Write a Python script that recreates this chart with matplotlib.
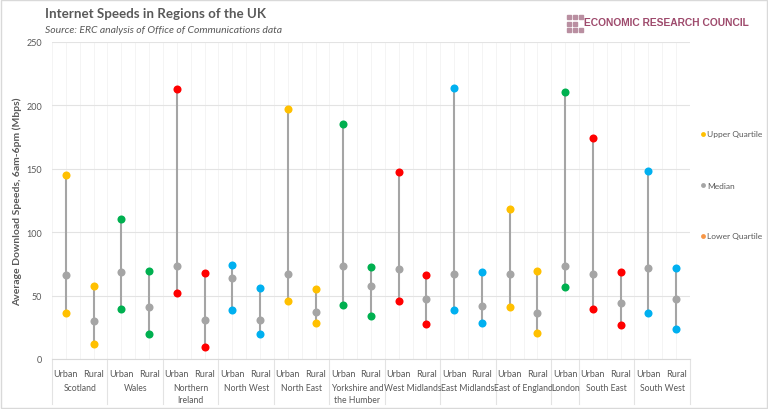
import matplotlib.pyplot as plt
import matplotlib.transforms as mtransforms
from matplotlib.patches import Rectangle

plt.rcParams['font.family'] = ['Lato', 'DejaVu Sans']

regions = ['Scotland', 'Wales', 'Northern\nIreland', 'North West', 'North East',
           'Yorkshire and\nthe Humber', 'West Midlands', 'East Midlands',
           'East of England', 'London', 'South East', 'South West']
region_types = [['Urban', 'Rural']] * 9 + [['Urban']] + [['Urban', 'Rural']] * 2
region_colors = ['#FFC000', '#00B050', '#FF0000', '#00B0F0', '#FFC000', '#00B050',
                 '#FF0000', '#00B0F0', '#FFC000', '#00B050', '#FF0000', '#00B0F0']

upper = [144.6, 57.3, 110.4, 69.7, 212.7, 67.5, 73.8, 56.0, 197.0, 55.2, 185.0, 72.3,
         147.1, 66.5, 213.3, 68.8, 118.5, 69.4, 210.7, 174.0, 68.6, 147.7, 71.8]
median = [66.0, 30.0, 68.4, 41.0, 73.6, 30.7, 64.1, 30.7, 67.3, 36.8, 73.6, 57.8,
          71.0, 47.0, 67.3, 41.5, 67.3, 36.3, 73.6, 67.3, 44.2, 71.5, 47.3]
lower = [36.5, 11.6, 39.2, 19.5, 51.8, 9.5, 38.4, 19.5, 45.5, 28.1, 42.8, 33.9,
         46.0, 27.6, 38.6, 28.1, 40.7, 20.2, 57.0, 39.4, 26.8, 36.5, 23.7]

text_grey = '#595959'
line_grey = '#A5A5A5'

# flatten category structure
cat_labels, cat_colors, group_bounds = [], [], [0]
for reg, types, col in zip(regions, region_types, region_colors):
    cat_labels += types
    cat_colors += [col] * len(types)
    group_bounds.append(group_bounds[-1] + len(types))
n = len(cat_labels)
xs = list(range(n))

fig = plt.figure(figsize=(7.68, 4.10), dpi=100)
ax = fig.add_axes([0.0677, 0.122, 0.8307, 0.774])

for x, u, m, l, c in zip(xs, upper, median, lower, cat_colors):
    ax.plot([x, x], [l, u], color=line_grey, lw=1.5, zorder=2)
    ax.plot(x, u, 'o', color=c, ms=5.8, mec='none', zorder=3)
    ax.plot(x, l, 'o', color=c, ms=5.8, mec='none', zorder=3)
    ax.plot(x, m, 'o', color=line_grey, ms=5.8, mec='none', zorder=3)

ax.set_xlim(-0.5, n - 0.5)
ax.set_ylim(0, 250)
ax.set_yticks(range(0, 251, 50))
ax.tick_params(axis='y', length=0, labelsize=6.5, labelcolor=text_grey, pad=7)
ax.grid(axis='y', color='#E3E3E3', lw=0.8, zorder=0)
for gx in [i * 0.5 - 0.5 for i in range(2 * n + 1)]:
    ax.axvline(gx, color='#F2F2F2', lw=0.6, zorder=0)

ax.set_xticks(xs)
ax.set_xticklabels(cat_labels)
ax.tick_params(axis='x', length=0, labelsize=6.5, labelcolor=text_grey, pad=7)
for s in ['top', 'right', 'left']:
    ax.spines[s].set_visible(False)
ax.spines['bottom'].set_color('#D9D9D9')

trans = mtransforms.blended_transform_factory(ax.transData, fig.transFigure)
for b in group_bounds:
    ax.plot([b - 0.5, b - 0.5], [0.122, 0.012], color='#E3E3E3', lw=0.8,
            transform=trans, clip_on=False)
for reg, a, b in zip(regions, group_bounds[:-1], group_bounds[1:]):
    ax.text((a + b - 1) / 2, 0.064, reg, transform=trans, ha='center', va='top',
            fontsize=6.2, color=text_grey, linespacing=1.5)

ax.set_ylabel('Average Download Speeds, 6am-6pm (Mbps)', fontsize=7.5,
              fontweight='bold', color=text_grey, labelpad=3)

fig.text(0.059, 0.966, 'Internet Speeds in Regions of the UK', fontsize=9.6,
         fontweight='bold', color=text_grey, va='center')
fig.text(0.059, 0.926, 'Source: ERC analysis of Office of Communications data',
         fontsize=7.5, style='italic', color=text_grey, va='center')

# legend at right
for yy, lab, col in [(0.671, 'Upper Quartile', '#FFC000'),
                     (0.546, 'Median', line_grey),
                     (0.422, 'Lower Quartile', '#F79646')]:
    fig.lines.append(plt.Line2D([0.915], [yy], marker='o', color=col, ms=3.5,
                                mec='none', transform=fig.transFigure))
    fig.text(0.921, yy, lab, fontsize=6, color=text_grey, va='center')

# logo
sq_col = '#B98FA1'
for r, ncols in enumerate([3, 2, 3]):
    for cidx in range(ncols):
        fig.patches.append(Rectangle(((567 + 6 * cidx) / 768, 1 - (20 + 6.5 * r) / 410),
                                     4 / 768, 4 / 410, color=sq_col,
                                     transform=fig.transFigure))
fig.text(584 / 768, 1 - 23.5 / 410, 'ECONOMIC RESEARCH COUNCIL', fontsize=7.4,
         fontweight='bold', color='#9E4A6C', va='center', family='Liberation Sans')

fig.patches.append(Rectangle((0.001, 0.002), 0.998, 0.996, fill=False,
                             ec='#D9D9D9', lw=1, transform=fig.transFigure))

fig.savefig('out.png', dpi=100)
